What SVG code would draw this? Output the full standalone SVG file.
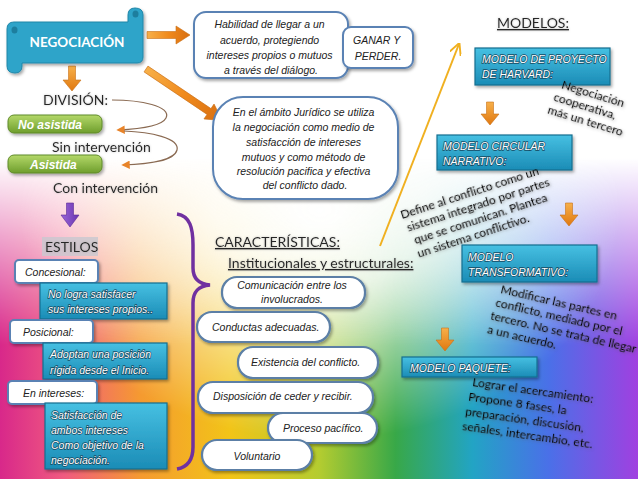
<svg xmlns="http://www.w3.org/2000/svg" width="638" height="479" viewBox="0 0 638 479">
<defs>
  <linearGradient id="rainbow" x1="0" y1="0" x2="1" y2="0">
    <stop offset="0" stop-color="#d8288a"/>
    <stop offset="0.1" stop-color="#f05a80"/>
    <stop offset="0.22" stop-color="#f59a30"/>
    <stop offset="0.36" stop-color="#f2c418"/>
    <stop offset="0.5" stop-color="#b4cc30"/>
    <stop offset="0.62" stop-color="#38a848"/>
    <stop offset="0.74" stop-color="#22a4c4"/>
    <stop offset="0.86" stop-color="#4a70e8"/>
    <stop offset="1" stop-color="#a040e0"/>
  </linearGradient>
  <linearGradient id="vfade" x1="0" y1="0" x2="0" y2="479" gradientUnits="userSpaceOnUse">
    <stop offset="0" stop-color="#000"/>
    <stop offset="0.33" stop-color="#000"/>
    <stop offset="0.72" stop-color="#fff"/>
    <stop offset="1" stop-color="#fff"/>
  </linearGradient>
  <radialGradient id="rfade" cx="320" cy="210" r="1" gradientUnits="userSpaceOnUse" gradientTransform="translate(320 210) scale(300 230) translate(-320 -210)">
    <stop offset="0" stop-color="#000"/>
    <stop offset="0.35" stop-color="#333"/>
    <stop offset="1" stop-color="#fff"/>
  </radialGradient>
  <mask id="maskV"><rect x="0" y="0" width="638" height="479" fill="url(#vfade)"/></mask>
  <mask id="maskR"><rect x="0" y="0" width="638" height="479" fill="url(#rfade)"/></mask>
  <linearGradient id="blueG" x1="0" y1="0" x2="0" y2="1">
    <stop offset="0" stop-color="#46c0e2"/>
    <stop offset="1" stop-color="#1b8cb6"/>
  </linearGradient>
  <linearGradient id="greenG" x1="0" y1="0" x2="0" y2="1">
    <stop offset="0" stop-color="#b4d86a"/>
    <stop offset="1" stop-color="#6e9e2c"/>
  </linearGradient>
  <linearGradient id="orangeG" x1="0" y1="0" x2="1" y2="0">
    <stop offset="0" stop-color="#f7b04a"/>
    <stop offset="0.5" stop-color="#f08a1c"/>
    <stop offset="1" stop-color="#d86e10"/>
  </linearGradient>
  <linearGradient id="orangeV" x1="0" y1="0" x2="0" y2="1">
    <stop offset="0" stop-color="#f7b04a"/>
    <stop offset="1" stop-color="#e07810"/>
  </linearGradient>
  <linearGradient id="purpleV" x1="0" y1="0" x2="1" y2="0">
    <stop offset="0" stop-color="#9a66d8"/>
    <stop offset="1" stop-color="#6a34b0"/>
  </linearGradient>
  <filter id="glow" x="-10%" y="-30%" width="120%" height="160%">
    <feGaussianBlur in="SourceAlpha" stdDeviation="1.3" result="b"/>
    <feFlood flood-color="#9a9a9a" flood-opacity="0.6"/>
    <feComposite in2="b" operator="in" result="g"/>
    <feMerge><feMergeNode in="g"/><feMergeNode in="SourceGraphic"/></feMerge>
  </filter>
  <filter id="nglow" x="-10%" y="-30%" width="120%" height="160%">
    <feGaussianBlur in="SourceAlpha" stdDeviation="1.4" result="b"/>
    <feOffset dx="1" dy="1" in="b" result="o"/>
    <feFlood flood-color="#505050" flood-opacity="0.55"/>
    <feComposite in2="o" operator="in" result="g"/>
    <feMerge><feMergeNode in="g"/><feMergeNode in="SourceGraphic"/></feMerge>
  </filter>
  <filter id="shadow" x="-10%" y="-20%" width="125%" height="150%">
    <feDropShadow dx="1.5" dy="2" stdDeviation="1.5" flood-color="#000" flood-opacity="0.35"/>
  </filter>
  <marker id="ahO" viewBox="0 0 10 10" refX="8" refY="5" markerWidth="7" markerHeight="7" orient="auto-start-reverse">
    <path d="M0,0 L10,5 L0,10 Z" fill="#e8842a"/>
  </marker>
  <marker id="ahY" viewBox="0 0 10 10" refX="9" refY="5" markerWidth="6" markerHeight="6" orient="auto">
    <path d="M0,0 L10,5 L0,10" fill="none" stroke="#f0b020" stroke-width="1.6"/>
  </marker>
  <style>
    text { font-family: "Lato", "Open Sans", "Liberation Sans", sans-serif; }
    .lbl { fill: #262626; font-size: 14px; filter: url(#glow); }
    .it { font-family: "Liberation Sans", Arial, sans-serif; font-style: italic; fill: #222; font-size: 10.5px; }
    .wbox { fill: #fff; stroke: #5a82b4; stroke-width: 2; filter: url(#shadow); }
    .pill { fill: #fff; stroke: #5b7fa6; stroke-width: 2.2; filter: url(#shadow); }
    .bbox { fill: url(#blueG); stroke: #176e90; stroke-width: 1.2; filter: url(#shadow); }
    .bt { font-family: "Liberation Sans", Arial, sans-serif; font-style: italic; fill: #fff; font-size: 10.5px; stroke: #164a62; stroke-width: 1.4px; paint-order: stroke; }
    .note { fill: #000; font-size: 12px; filter: url(#nglow); }
    .green { fill: url(#greenG); stroke: #5f8a28; stroke-width: 1; filter: url(#shadow); }
    .gt { font-family: "Liberation Sans", Arial, sans-serif; font-style: italic; font-weight: bold; fill: #fff; font-size: 12px; }
  </style>
</defs>

<!-- background -->
<rect x="0" y="0" width="638" height="479" fill="#ffffff"/>
<g mask="url(#maskV)">
  <rect x="0" y="0" width="638" height="479" fill="url(#rainbow)" mask="url(#maskR)"/>
</g>

<!-- connectors -->
<g id="connectors">
  <polygon points="147,31.5 176,31.5 176,26 190,35 176,44 176,38.5 147,38.5" fill="url(#orangeG)" stroke="#c8701a" stroke-width="0.6"/>
  <g transform="translate(146,69) rotate(34)">
    <polygon points="0,-3.5 76,-3.5 76,-9 92,0 76,9 76,3.5 0,3.5" fill="url(#orangeG)" stroke="#c8701a" stroke-width="0.6"/>
  </g>
  <polygon points="68.5,66 75.5,66 75.5,80 81,80 72,91 63,80 68.5,80" fill="url(#orangeV)" stroke="#c8701a" stroke-width="0.6"/>
  <path d="M112,100 C140,100 172,106 166,118 C162,126 140,129 118,130" fill="none" stroke="#8a6a52" stroke-width="1.2" marker-end="url(#ahO)"/>
  <path d="M124,131 C150,132 180,138 177,150 C174,161 150,164 123,165" fill="none" stroke="#8a6a52" stroke-width="1.2" marker-end="url(#ahO)"/>
  <polygon points="66.5,203 73.5,203 73.5,215 79,215 70,227 61,215 66.5,215" fill="url(#purpleV)" stroke="#5a2a96" stroke-width="0.6"/>
  <path d="M177,214 C190,216 193,228 193,245 L193,268 C193,279 199,284 210,285 C199,286 193,291 193,303 L193,447 C193,460 188,467 177,469" fill="none" stroke="#7030a0" stroke-width="3.5"/>
  <line x1="380" y1="246" x2="459" y2="44" stroke="#f0b020" stroke-width="2" marker-end="url(#ahY)"/>
  <polygon points="486.5,102 493.5,102 493.5,114 499,114 490,125 481,114 486.5,114" fill="url(#orangeV)" stroke="#c8701a" stroke-width="0.6"/>
  <polygon points="565.5,203 572.5,203 572.5,215 578,215 569,226 560,215 565.5,215" fill="url(#orangeV)" stroke="#c8701a" stroke-width="0.6"/>
  <polygon points="441.5,328 448.5,328 448.5,340 454,340 445,351 436,340 441.5,340" fill="url(#orangeV)" stroke="#c8701a" stroke-width="0.6"/>
</g>

<g id="negociacion">
  <path d="M7,29 Q7,22 14,22 L128,22 L128,15 Q128,8 135,8 Q143,8 143,15 L143,57 Q143,63 137,63 L22,63 L22,66 Q22,73 15,73 Q7,73 7,66 Z" fill="#2ea4c9" stroke="#1f86a8" stroke-width="1" filter="url(#shadow)"/>
  <ellipse cx="14.5" cy="30" rx="3" ry="3.5" fill="#1d7e9e"/>
  <ellipse cx="135.5" cy="14" rx="3" ry="3.5" fill="#1d7e9e"/>
  <text x="77" y="47" text-anchor="middle" fill="#fff" font-weight="bold" font-size="13.5">NEGOCIACIÓN</text>
</g>

<g id="habilidad">
  <rect class="wbox" x="194" y="12" width="154" height="66" rx="12"/>
  <text class="it" text-anchor="middle">
    <tspan x="271" y="28">Habilidad de llegar a un</tspan>
    <tspan x="271" y="44">acuerdo, protegiendo</tspan>
    <tspan x="271" y="59">intereses propios o mutuos</tspan>
    <tspan x="271" y="74">a través del diálogo.</tspan>
  </text>
</g>

<g id="ganar">
  <rect class="wbox" x="343" y="27" width="70" height="41" rx="8"/>
  <text class="it" text-anchor="middle">
    <tspan x="378" y="44">GANAR Y</tspan>
    <tspan x="378" y="60">PERDER.</tspan>
  </text>
</g>

<g id="juridico">
  <rect class="wbox" x="213" y="97" width="185" height="102" rx="30"/>
  <text class="it" text-anchor="middle">
    <tspan x="305" y="116">En el ámbito Jurídico se utiliza</tspan>
    <tspan x="305" y="131">la negociación como medio de</tspan>
    <tspan x="305" y="146">satisfacción de intereses</tspan>
    <tspan x="305" y="161">mutuos y como método de</tspan>
    <tspan x="305" y="175">resolución pacifica y efectiva</tspan>
    <tspan x="305" y="189">del conflicto dado.</tspan>
  </text>
</g>

<g id="division">
  <text class="lbl" x="43" y="105">DIVISIÓN:</text>
</g>
<g id="no-asistida">
  <rect class="green" x="8" y="115" width="94" height="18" rx="6"/>
  <text class="gt" x="18" y="128.5">No asistida</text>
</g>
<g id="sin-intervencion">
  <text class="lbl" x="52" y="152">Sin intervención</text>
</g>
<g id="asistida">
  <rect class="green" x="8" y="155" width="94" height="18" rx="6"/>
  <text class="gt" x="30" y="168.5">Asistida</text>
</g>
<g id="con-intervencion">
  <text class="lbl" x="53" y="193">Con intervención</text>
</g>

<g id="estilos">
  <rect x="42" y="237" width="56" height="19" fill="#c8c8d0" opacity="0.8"/>
  <text class="lbl" x="45" y="252">ESTILOS</text>
</g>
<g id="concesional">
  <rect class="wbox" x="15" y="260" width="83" height="23" rx="4"/>
  <text class="it" x="25" y="276">Concesional:</text>
</g>
<g id="concesional-desc">
  <rect class="bbox" x="40" y="283" width="127" height="36"/>
  <text class="bt"><tspan x="48" y="298">No logra satisfacer</tspan><tspan x="48" y="313">sus intereses propios..</tspan></text>
</g>
<g id="posicional">
  <rect class="wbox" x="10" y="320" width="83" height="23" rx="4"/>
  <text class="it" x="23" y="336">Posicional:</text>
</g>
<g id="posicional-desc">
  <rect class="bbox" x="43" y="343" width="124" height="36"/>
  <text class="bt"><tspan x="50" y="358">Adoptan una posición</tspan><tspan x="50" y="374">rígida desde el Inicio.</tspan></text>
</g>
<g id="en-intereses">
  <rect class="wbox" x="8" y="381" width="89" height="23" rx="4"/>
  <text class="it" x="23" y="397">En intereses:</text>
</g>
<g id="intereses-desc">
  <rect class="bbox" x="45" y="403" width="122" height="66"/>
  <text class="bt"><tspan x="51" y="419">Satisfacción de</tspan><tspan x="51" y="434">ambos intereses</tspan><tspan x="51" y="449">Como objetivo de la</tspan><tspan x="51" y="464">negociación.</tspan></text>
</g>

<g id="caracteristicas">
  <text class="lbl" x="215" y="247" text-decoration="underline">CARACTERÍSTICAS:</text>
  <text class="lbl" x="228" y="268" font-size="12.5" text-decoration="underline">Institucionales y estructurales:</text>
</g>
<g id="comunicacion">
  <rect class="pill" x="222" y="277" width="143" height="31" rx="15"/>
  <text class="it" text-anchor="middle"><tspan x="292" y="289">Comunicación entre los</tspan><tspan x="292" y="303">involucrados.</tspan></text>
</g>
<g id="conductas">
  <rect class="pill" x="197" y="312" width="133" height="30" rx="15"/>
  <text class="it" x="212" y="331">Conductas adecuadas.</text>
</g>
<g id="existencia">
  <rect class="pill" x="238" y="347" width="140" height="31" rx="15"/>
  <text class="it" x="251" y="366">Existencia del conflicto.</text>
</g>
<g id="disposicion">
  <rect class="pill" x="198" y="382" width="175" height="31" rx="15"/>
  <text class="it" x="213" y="400">Disposición de ceder y recibir.</text>
</g>
<g id="proceso">
  <rect class="pill" x="268" y="413" width="109" height="30" rx="15"/>
  <text class="it" x="283" y="432">Proceso pacífico.</text>
</g>
<g id="voluntario">
  <rect class="pill" x="202" y="440" width="110" height="30" rx="15"/>
  <text class="it" x="257" y="460" text-anchor="middle">Voluntario</text>
</g>

<g id="modelos">
  <text class="lbl" x="497" y="28" font-size="15" text-decoration="underline">MODELOS:</text>
</g>
<g id="harvard">
  <rect class="bbox" x="475" y="48" width="135" height="37"/>
  <text class="bt"><tspan x="482" y="63">MODELO DE PROYECTO</tspan><tspan x="482" y="78">DE HARVARD:</tspan></text>
</g>
<g id="harvard-note">
  <text class="note" font-size="12.5" transform="translate(557,87) rotate(17)"><tspan x="4" y="0">Negociación</tspan><tspan x="0" y="14">cooperativa,</tspan><tspan x="-2" y="28">más un tercero</tspan></text>
</g>
<g id="circular">
  <rect class="bbox" x="437" y="135" width="135" height="35"/>
  <text class="bt"><tspan x="443" y="150">MODELO CIRCULAR</tspan><tspan x="443" y="165">NARRATIVO:</tspan></text>
</g>
<g id="circular-note">
  <text class="note" transform="translate(402,219) rotate(-18)"><tspan x="0" y="0">Define al conflicto como un</tspan><tspan x="2" y="14">sistema integrado por partes</tspan><tspan x="5" y="28">que se comunican. Plantea</tspan><tspan x="4" y="42">un sistema conflictivo.</tspan></text>
</g>
<g id="transformativo">
  <rect class="bbox" x="462" y="245" width="135" height="37"/>
  <text class="bt"><tspan x="468" y="261">MODELO</tspan><tspan x="468" y="276">TRANSFORMATIVO:</tspan></text>
</g>
<g id="transformativo-note">
  <text class="note" font-size="11" transform="translate(500,293) rotate(13)"><tspan x="0" y="0">Modificar las partes en</tspan><tspan x="-2" y="14">conflicto, mediado por el</tspan><tspan x="-4" y="28">tercero. No se trata de llegar</tspan><tspan x="-4" y="42">a un acuerdo.</tspan></text>
</g>
<g id="paquete">
  <rect class="bbox" x="402" y="357" width="135" height="20"/>
  <text class="bt" x="410" y="372">MODELO PAQUETE:</text>
</g>
<g id="paquete-note">
  <text class="note" font-size="11.5" transform="translate(472,386) rotate(8)"><tspan x="0" y="0">Lograr el acercamiento:</tspan><tspan x="-2" y="15">Propone 8 fases, la</tspan><tspan x="-3" y="30">preparación, discusión,</tspan><tspan x="-4" y="45">señales, intercambio, etc.</tspan></text>
</g>
</svg>
